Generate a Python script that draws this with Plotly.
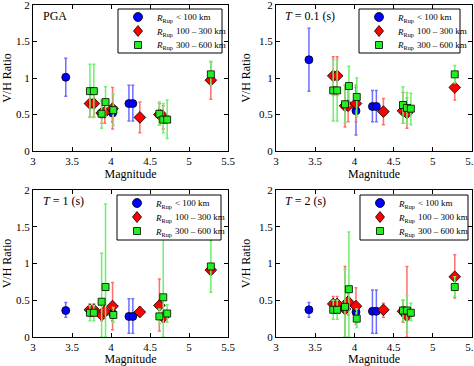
import plotly.graph_objects as go

# ---------------- data ----------------
panel_titles = ["PGA", "<i>T</i> = 0.1 (s)", "<i>T</i> = 1 (s)", "<i>T</i> = 2 (s)"]
class_labels = ["< 100 km", "100 – 300 km", "300 – 600 km"]
class_prefix = "<i>R</i><sub>Rup</sub>"
x_ticks = [3, 3.5, 4, 4.5, 5, 5.5]
y_ticks = [0, 0.5, 1, 1.5, 2]

near_M = [3.42, 4.02, 4.23, 4.28]
mid_M = [3.73, 3.78, 3.88, 3.92, 4.02, 4.37, 4.62, 4.67, 5.28]
far_M = [3.73, 3.78, 3.88, 3.93, 4.03, 4.62, 4.67, 4.72, 5.28]

# PGA
pga_near_V = [1.01, 0.52, 0.65, 0.65]
pga_near_lo = [0.75, 0.40, 0.41, 0.41]
pga_near_hi = [1.27, 0.64, 0.90, 0.90]
pga_mid_V = [0.65, 0.65, 0.52, 0.53, 0.58, 0.46, 0.50, 0.47, 0.97]
pga_mid_lo = [0.47, 0.47, 0.38, 0.38, 0.30, 0.25, 0.36, 0.30, 0.71]
pga_mid_hi = [0.83, 0.83, 0.68, 0.70, 0.87, 0.67, 0.65, 0.62, 1.22]
pga_far_V = [0.82, 0.82, 0.51, 0.67, 0.56, 0.51, 0.43, 0.43, 1.05]
pga_far_lo = [0.46, 0.46, 0.31, 0.47, 0.35, 0.36, 0.25, 0.17, 0.90]
pga_far_hi = [1.19, 1.19, 0.70, 0.88, 0.78, 0.67, 0.65, 0.70, 1.23]

# T = 0.1 s
t01_near_V = [1.25, 0.55, 0.61, 0.61]
t01_near_lo = [0.82, 0.22, 0.40, 0.40]
t01_near_hi = [1.68, 0.87, 0.83, 0.83]
t01_mid_V = [1.03, 1.03, 0.62, 0.62, 0.65, 0.54, 0.55, 0.52, 0.87]
t01_mid_lo = [0.76, 0.76, 0.33, 0.40, 0.40, 0.36, 0.38, 0.31, 0.70]
t01_mid_hi = [1.29, 1.29, 0.90, 0.85, 0.90, 0.72, 0.80, 0.73, 1.03]
t01_far_V = [0.83, 0.83, 0.64, 0.89, 0.74, 0.63, 0.59, 0.58, 1.05]
t01_far_lo = [0.41, 0.41, 0.38, 0.62, 0.47, 0.38, 0.38, 0.36, 0.93]
t01_far_hi = [1.25, 1.25, 0.90, 1.16, 1.00, 0.88, 0.80, 0.79, 1.17]

# T = 1 s
t1_near_V = [0.36, 0.32, 0.28, 0.28]
t1_near_lo = [0.27, 0.22, 0.05, 0.05]
t1_near_hi = [0.47, 0.42, 0.52, 0.52]
t1_mid_V = [0.37, 0.37, 0.30, 0.35, 0.42, 0.34, 0.43, 0.27, 0.91]
t1_mid_lo = [0.28, 0.28, 0.22, 0.25, 0.10, 0.28, 0.08, 0.20, 0.85]
t1_mid_hi = [0.45, 0.45, 0.38, 0.45, 0.74, 0.41, 0.79, 0.35, 0.98]
t1_far_V = [0.33, 0.33, 0.48, 0.68, 0.30, 0.28, 0.54, 0.32, 0.96]
t1_far_lo = [0.22, 0.22, 0.0, 0.0, 0.20, 0.18, 0.0, 0.20, 0.61]
t1_far_hi = [0.43, 0.43, 1.14, 1.81, 0.40, 0.38, 1.60, 0.44, 1.31]

# T = 2 s
t2_near_V = [0.37, 0.34, 0.35, 0.35]
t2_near_lo = [0.27, 0.23, 0.05, 0.05]
t2_near_hi = [0.47, 0.45, 0.64, 0.64]
t2_mid_V = [0.45, 0.45, 0.38, 0.48, 0.42, 0.37, 0.35, 0.29, 0.82]
t2_mid_lo = [0.33, 0.33, 0.0, 0.30, 0.17, 0.27, 0.20, 0.0, 0.53]
t2_mid_hi = [0.55, 0.55, 0.96, 0.60, 0.67, 0.46, 0.50, 0.96, 1.12]
t2_far_V = [0.37, 0.37, 0.41, 0.65, 0.25, 0.36, 0.36, 0.33, 0.68]
t2_far_lo = [0.24, 0.24, 0.0, 0.0, 0.13, 0.22, 0.07, 0.22, 0.55]
t2_far_hi = [0.50, 0.50, 0.92, 1.43, 0.38, 0.50, 0.56, 0.46, 0.82]

panels = [
    [(near_M, pga_near_V, pga_near_lo, pga_near_hi), (mid_M, pga_mid_V, pga_mid_lo, pga_mid_hi), (far_M, pga_far_V, pga_far_lo, pga_far_hi)],
    [(near_M, t01_near_V, t01_near_lo, t01_near_hi), (mid_M, t01_mid_V, t01_mid_lo, t01_mid_hi), (far_M, t01_far_V, t01_far_lo, t01_far_hi)],
    [(near_M, t1_near_V, t1_near_lo, t1_near_hi), (mid_M, t1_mid_V, t1_mid_lo, t1_mid_hi), (far_M, t1_far_V, t1_far_lo, t1_far_hi)],
    [(near_M, t2_near_V, t2_near_lo, t2_near_hi), (mid_M, t2_mid_V, t2_mid_lo, t2_mid_hi), (far_M, t2_far_V, t2_far_lo, t2_far_hi)],
]

# ---------------- style / layout ----------------
FONT = "Liberation Serif"
W, H = 474, 366
ML, MR, MT, MB = 33, 2, 5, 29
PW, PH = W - ML - MR, H - MT - MB


def px_x(px):
    return (px - ML) / PW


def px_y(py):
    return (H - MB - py) / PH


marker_colors = ["#0000ff", "#ff0000", "#22ee22"]
err_colors = ["#6f6fff", "#ff6f6f", "#6fef6f"]
symbols = ["circle", "diamond", "square"]
sizes = [8, 9, 7]

x_dom_px = [(33, 228), (276, 472)]
y_dom_px = [(5, 151), (190, 337)]
# legend boxes: (left, top, width, height) in px
legend_box = [(118, 9, 104, 44), (359, 9, 101, 44), (117, 195, 104, 45), (360, 195, 108, 45)]
label_pos = [(41, 16), (283, 16), (41, 201), (283, 201)]

fig = go.Figure()
layout = dict(
    width=W, height=H,
    margin=dict(l=ML, r=MR, t=MT, b=MB),
    paper_bgcolor="white", plot_bgcolor="white",
    font=dict(family=FONT, size=11, color="black"),
    showlegend=False,
)
shapes = []
annotations = []

for p in range(4):
    r, c = divmod(p, 2)
    xa = "x" if p == 0 else f"x{p+1}"
    ya = "y" if p == 0 else f"y{p+1}"
    for k in range(3):
        M, V, lo, hi = panels[p][k]
        fig.add_trace(go.Scatter(
            x=M, y=V, mode="markers", name=class_prefix + " " + class_labels[k],
            xaxis=xa, yaxis=ya,
            marker=dict(symbol=symbols[k], size=sizes[k], color=marker_colors[k],
                        line=dict(color="black", width=0.8)),
            error_y=dict(type="data", symmetric=False,
                         array=[h - v for h, v in zip(hi, V)],
                         arrayminus=[v - l for v, l in zip(V, lo)],
                         color=err_colors[k], thickness=1.5, width=1.5),
        ))
    axcommon = dict(showline=True, linecolor="black", linewidth=1, mirror="ticks",
                    ticks="inside", ticklen=4, tickcolor="black", showgrid=False,
                    zeroline=False, automargin=False, ticklabeloverflow="allow",
                    tickfont=dict(family=FONT, size=11))
    x0, x1 = x_dom_px[c]
    y0, y1 = y_dom_px[r]
    layout["xaxis" if p == 0 else f"xaxis{p+1}"] = dict(
        axcommon, domain=[px_x(x0), px_x(x1)], range=[3, 5.5], tickvals=x_ticks,
        ticktext=[f"{t:g}" for t in x_ticks], anchor=ya,
        title=dict(text="Magnitude", font=dict(size=12), standoff=3))
    layout["yaxis" if p == 0 else f"yaxis{p+1}"] = dict(
        axcommon, domain=[px_y(y1), px_y(y0)], range=[0, 2], tickvals=y_ticks,
        ticktext=[f"{t:g}" for t in y_ticks], anchor=xa,
        title=dict(text="V/H Ratio", font=dict(size=12), standoff=5))

    # legend box drawn by hand (compact, MATLAB-like)
    bl, bt, bw, bh = legend_box[p]
    shapes.append(dict(type="rect", xref="paper", yref="paper",
                       x0=px_x(bl), x1=px_x(bl + bw), y0=px_y(bt + bh), y1=px_y(bt),
                       line=dict(color="black", width=1), fillcolor="white", layer="above"))
    for k in range(3):
        cx = bl + 20
        cy = bt + 8 + 14 * k
        if k == 0:
            shapes.append(dict(type="circle", xref="paper", yref="paper",
                               x0=px_x(cx - 4.5), x1=px_x(cx + 4.5), y0=px_y(cy + 4.5), y1=px_y(cy - 4.5),
                               fillcolor=marker_colors[0], line=dict(color="black", width=0.8), layer="above"))
        elif k == 1:
            path = (f"M {px_x(cx)},{px_y(cy - 5.5)} L {px_x(cx + 4.5)},{px_y(cy)} "
                    f"L {px_x(cx)},{px_y(cy + 5.5)} L {px_x(cx - 4.5)},{px_y(cy)} Z")
            shapes.append(dict(type="path", xref="paper", yref="paper", path=path,
                               fillcolor=marker_colors[1], line=dict(color="black", width=0.8), layer="above"))
        else:
            shapes.append(dict(type="rect", xref="paper", yref="paper",
                               x0=px_x(cx - 3.5), x1=px_x(cx + 3.5), y0=px_y(cy + 3.5), y1=px_y(cy - 3.5),
                               fillcolor=marker_colors[2], line=dict(color="black", width=0.8), layer="above"))
        annotations.append(dict(text=class_prefix, xref="paper", yref="paper",
                                x=px_x(bl + 36), y=px_y(cy + 1), xanchor="left", yanchor="middle",
                                showarrow=False, font=dict(family=FONT, size=9)))
        annotations.append(dict(text=class_labels[k], xref="paper", yref="paper",
                                x=px_x(bl + 56), y=px_y(cy), xanchor="left", yanchor="middle",
                                showarrow=False, font=dict(family=FONT, size=9)))

    tx, ty = label_pos[p]
    annotations.append(dict(text=panel_titles[p], xref="paper", yref="paper",
                            x=px_x(tx), y=px_y(ty), xanchor="left", yanchor="middle",
                            showarrow=False, font=dict(family=FONT, size=12)))

layout["shapes"] = shapes
layout["annotations"] = annotations
fig.update_layout(**layout)
fig.write_html("out.html", post_script="document.body.style.margin='0px';",
               config={"displayModeBar": False})
